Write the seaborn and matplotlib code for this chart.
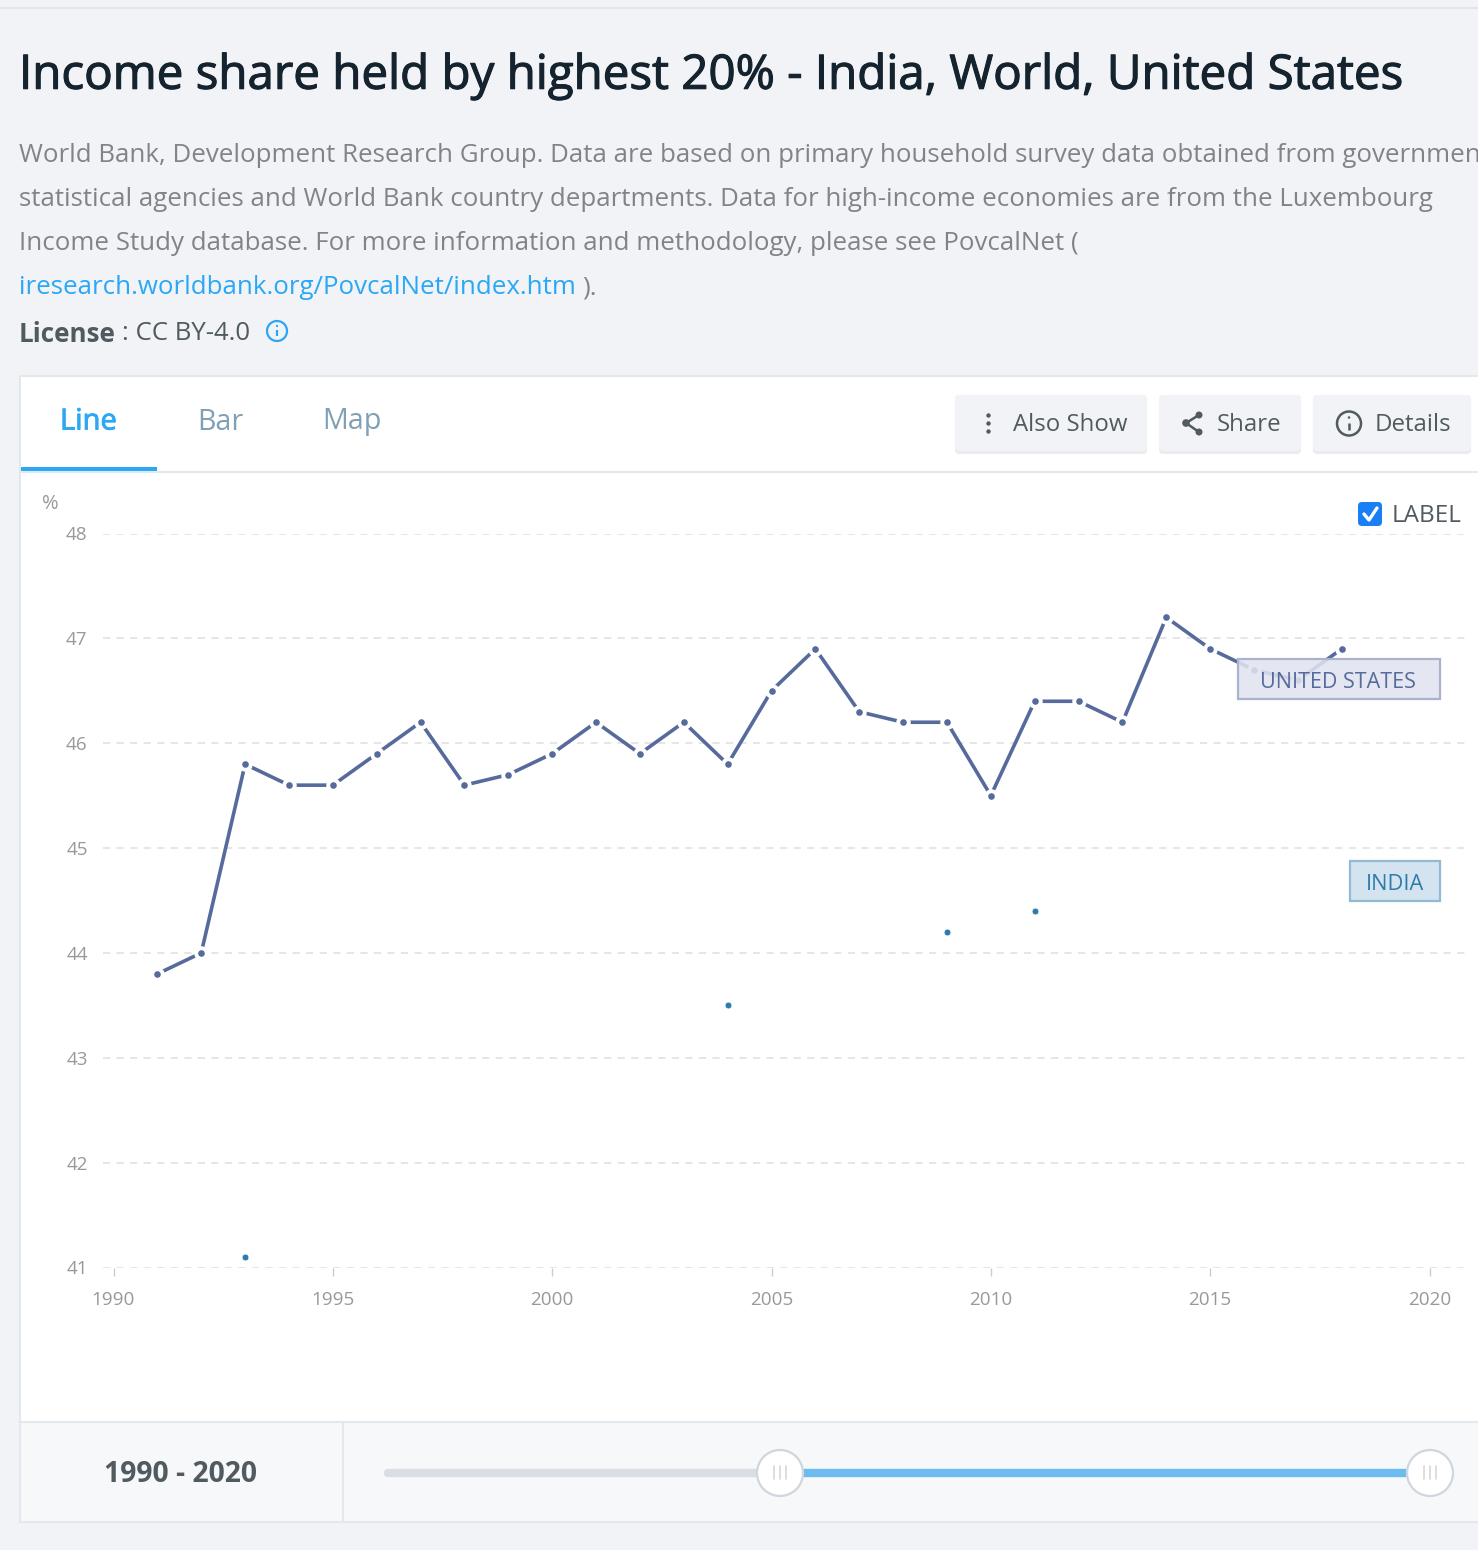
"""World Bank style income share page, line tab."""
import matplotlib
matplotlib.use('Agg')
import matplotlib.pyplot as plt
import matplotlib.patheffects as pe
import pandas as pd
import seaborn as sns
from matplotlib.patches import Circle, FancyBboxPatch, Rectangle

TITLE = 'Income share held by highest 20% - India, World, United States'
DESC_LINES = [
    'World Bank, Development Research Group. Data are based on primary household survey data obtained from government',
    'statistical agencies and World Bank country departments. Data for high-income economies are from the Luxembourg',
    'Income Study database. For more information and methodology, please see PovcalNet (',
]
LINK = 'iresearch.worldbank.org/PovcalNet/index.htm'

us_years = [1991, 1992, 1993, 1994, 1995, 1996, 1997, 1998, 1999, 2000, 2001, 2002, 2003, 2004,
            2005, 2006, 2007, 2008, 2009, 2010, 2011, 2012, 2013, 2014, 2015, 2016, 2017, 2018]
us_share = [43.8, 44.0, 45.8, 45.6, 45.6, 45.9, 46.2, 45.6, 45.7, 45.9, 46.2, 45.9, 46.2, 45.8,
            46.5, 46.9, 46.3, 46.2, 46.2, 45.5, 46.4, 46.4, 46.2, 47.2, 46.9, 46.7, 46.6, 46.9]
india_years = [1993, 2004, 2009, 2011]
india_share = [41.1, 43.5, 44.2, 44.4]
x_ticks = [1990, 1995, 2000, 2005, 2010, 2015, 2020]
y_ticks = [41, 42, 43, 44, 45, 46, 47, 48]

W, H = 1478, 1550
PAGE = '#f1f3f7'
BORDER = '#e3e8ec'
GREY = '#808488'
DARK = '#505a5f'
BLUE = '#2aa7f5'
US_COLOR = '#566a9c'
INDIA_COLOR = '#2f7bac'

sns.set_theme(style='white')
plt.rcParams['font.family'] = ['Open Sans', 'DejaVu Sans']

fig = plt.figure(figsize=(W / 100, H / 100), dpi=100, facecolor=PAGE)

# page chrome is drawn in pixel coordinates
bg = fig.add_axes([0, 0, 1, 1], zorder=0)
bg.set_xlim(0, W)
bg.set_ylim(H, 0)
bg.axis('off')


def txt(x, y, s, size, color, weight='normal', ha='left', axis=bg, stroke=0):
    t = axis.text(x, y, s, fontsize=size, color=color, fontweight=weight, ha=ha, va='center')
    if stroke:
        # no medium weight installed, thicken the regular one a bit
        t.set_path_effects([pe.withStroke(linewidth=stroke, foreground=color)])
    return t


def button(x, w, label, tx):
    bg.add_patch(FancyBboxPatch((x + 1, 396), w - 2, 57, boxstyle='round,pad=0,rounding_size=3',
                                fc='#eaecf0', ec='#eaecf0', lw=1.5))
    bg.add_patch(FancyBboxPatch((x + 1, 396), w - 2, 54, boxstyle='round,pad=0,rounding_size=3',
                                fc=PAGE, ec=PAGE, lw=1.5))
    txt(tx, 425, label, 17.3, DARK)


def info_icon(x, y, r, color, lw):
    bg.add_patch(Circle((x, y), r, fc='none', ec=color, lw=lw))
    bg.plot([x, x], [y - 1, y + r * 0.5], color=color, lw=lw, solid_capstyle='butt')
    bg.add_patch(Circle((x, y - r * 0.5), lw * 0.7, fc=color, ec='none'))


bg.plot([0, W], [8, 8], color='#e2e5ea', lw=1.5)
txt(19, 76, TITLE, 34.2, '#14232e', stroke=0.8)
for i, line in enumerate(DESC_LINES):
    txt(19, 156 + i * 44, line, 18.66, GREY)
txt(19, 288, LINK, 18.66, BLUE)
txt(582, 288, ').', 18.66, GREY)
txt(19, 334, 'License', 18.7, DARK, weight='bold')
txt(122, 334, ': CC BY-4.0', 18.5, DARK)
info_icon(277, 331, 10, BLUE, 1.6)

# card
bg.add_patch(Rectangle((20, 376), W, 1146, fc='white', ec=BORDER, lw=1.5))
bg.plot([20, W], [472, 472], color=BORDER, lw=1.5)
bg.add_patch(Rectangle((21, 467), 136, 4, fc=BLUE, ec='none'))
txt(60, 422, 'Line', 21, BLUE, stroke=0.6)
txt(197, 422, 'Bar', 20.7, '#80a0b5')
txt(322, 422, 'Map', 20.7, '#80a0b5')

button(955, 192, 'Also Show', 1013)
for dy in (-8, 0, 8):
    bg.add_patch(Circle((988.5, 423.5 + dy), 2.2, fc=DARK, ec='none'))
button(1159, 142, 'Share', 1217)
bg.plot([1199, 1186, 1199], [415, 423, 432], color=DARK, lw=1.8)
for px, py, r in ((1199, 415, 3.5), (1186, 423, 3.8), (1199, 432, 3.5)):
    bg.add_patch(Circle((px, py), r, fc=DARK, ec='none'))
button(1313, 158, 'Details', 1375)
info_icon(1349, 423.5, 12, DARK, 1.8)

# LABEL checkbox
bg.add_patch(FancyBboxPatch((1358, 502), 24, 24, boxstyle='round,pad=0,rounding_size=4',
                            fc='#1a7ff5', ec='none'))
bg.plot([1364, 1369, 1377], [514, 520, 508], color='white', lw=2.4)
txt(1392, 516, 'LABEL', 17.5, DARK)

# footer with range slider
bg.add_patch(Rectangle((20, 1422), W, 100, fc='#f7f8fa', ec=BORDER, lw=1.5))
bg.plot([343, 343], [1422, 1522], color=BORDER, lw=1.5)
txt(181, 1474, '1990 - 2020', 20.3, DARK, weight='bold', ha='center')
bg.plot([388, 780], [1473, 1473], color='#d9dee5', lw=6, solid_capstyle='round')
bg.plot([780, 1430], [1473, 1473], color='#6cbcf0', lw=6, solid_capstyle='butt')
for cx in (780, 1430):
    bg.add_patch(Circle((cx, 1473), 23, fc='white', ec='#cfd6de', lw=1.6, zorder=3))
    for dx in (-6, 0, 6):
        bg.plot([cx + dx, cx + dx], [1466, 1479], color='#d8d8d8', lw=1.2, zorder=4)

# chart axes: 1990 sits at px 113.5, 2020 at px 1429.5, 48 at px 533.5, 41 at px 1267.5
ax_left, ax_right, ax_top, ax_bottom = 103, 1467, 533.5, 1267.5
year_px = (1429.5 - 113.5) / 30
ax = fig.add_axes([ax_left / W, 1 - ax_bottom / H, (ax_right - ax_left) / W, (ax_bottom - ax_top) / H],
                  zorder=1)
ax.patch.set_alpha(0)

us_df = pd.DataFrame({'year': us_years, 'share': us_share})
india_df = pd.DataFrame({'year': india_years, 'share': india_share})

sns.lineplot(data=us_df, x='year', y='share', ax=ax, color=US_COLOR, linewidth=2.6, marker='o',
             markersize=7.6, markeredgecolor='white', markeredgewidth=2.8, clip_on=False, zorder=3)
sns.scatterplot(data=india_df, x='year', y='share', ax=ax, color=INDIA_COLOR, s=24,
                edgecolor='white', linewidth=0.5, clip_on=False, zorder=3)

ax.set_xlim(1990 - (113.5 - ax_left) / year_px, 2020 + (ax_right - 1429.5) / year_px)
ax.set_ylim(41, 48)
ax.set_xticks(x_ticks)
ax.set_yticks(y_ticks)
ax.set_xlabel('')
ax.set_ylabel('')
ax.grid(axis='y', color='#e4e4e4', linestyle=(0, (4, 3.5)), linewidth=1.3)
ax.set_axisbelow(True)
sns.despine(ax=ax, left=True, bottom=True, top=True, right=True)
ax.tick_params(axis='x', length=6, width=1, color='#cccccc', labelsize=13.6, labelcolor='#999999', pad=11,
               bottom=True)
ax.tick_params(axis='y', length=0, labelsize=13.6, labelcolor='#999999', pad=11)
txt(42, 504, '%', 14.5, '#999999')

# series labels sit above the line
top = fig.add_axes([0, 0, 1, 1], zorder=2)
top.set_xlim(0, W)
top.set_ylim(H, 0)
top.axis('off')
top.add_patch(Rectangle((1238, 659), 202, 40, fc='#e1e4f0', ec='none', alpha=0.88))
top.add_patch(Rectangle((1238, 659), 202, 40, fc='none', ec='#aab2cd', lw=1.6))
txt(1337.5, 682, 'UNITED STATES', 15.5, US_COLOR, ha='center', axis=top)
top.add_patch(Rectangle((1350, 861), 90, 40, fc='#d3e4f0', ec='#93b9d4', lw=1.6))
txt(1395, 884, 'INDIA', 15.7, INDIA_COLOR, ha='center', axis=top)

fig.savefig('out.png', dpi=100, facecolor=PAGE)
